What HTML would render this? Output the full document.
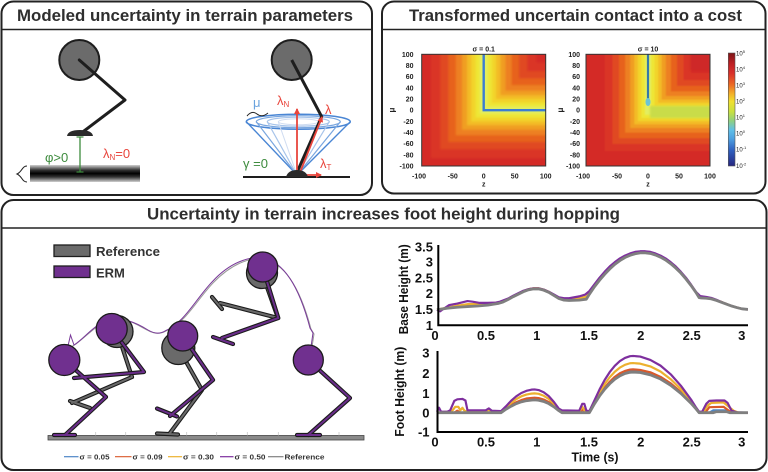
<!DOCTYPE html>
<html><head><meta charset="utf-8"><style>html,body{margin:0;padding:0;background:#fff}svg{display:block}</style></head>
<body>
<svg width="768" height="472" viewBox="0 0 768 472" xmlns="http://www.w3.org/2000/svg" xmlns:xlink="http://www.w3.org/1999/xlink" font-family="'Liberation Sans', Arial, sans-serif">
<defs>
  <linearGradient id="gnd" x1="0" y1="0" x2="0" y2="1">
    <stop offset="0" stop-color="#d0d0d0"/><stop offset="0.3" stop-color="#333"/><stop offset="0.5" stop-color="#000"/><stop offset="0.7" stop-color="#333"/><stop offset="1" stop-color="#d0d0d0"/>
  </linearGradient>
  <linearGradient id="cbar" x1="0" y1="0" x2="0" y2="1">
    <stop offset="0" stop-color="#7d1416"/><stop offset="0.1" stop-color="#c02024"/><stop offset="0.18" stop-color="#d9302a"/><stop offset="0.28" stop-color="#ec6a24"/><stop offset="0.36" stop-color="#f3b02a"/><stop offset="0.43" stop-color="#f0e030"/><stop offset="0.52" stop-color="#c8e040"/><stop offset="0.6" stop-color="#90d080"/><stop offset="0.68" stop-color="#60c0e8"/><stop offset="0.76" stop-color="#4ea0e0"/><stop offset="0.86" stop-color="#3060c0"/><stop offset="1" stop-color="#262680"/>
  </linearGradient>
  <filter id="bl" x="-10%" y="-10%" width="120%" height="120%"><feGaussianBlur stdDeviation="1"/></filter>
  <clipPath id="clipL"><rect x="421.7" y="54.3" width="124" height="111.7"/></clipPath>
  <clipPath id="clipR"><rect x="586" y="54.3" width="124" height="111.7"/></clipPath>
  <marker id="ah" markerWidth="6" markerHeight="6" refX="5" refY="3" orient="auto" markerUnits="userSpaceOnUse"><path d="M0,0 L6,3 L0,6 z" fill="#e8453c"/></marker>
  <g id="bands">
    <rect x="380" y="0" width="220" height="200" fill="#d42a27"/>
    <polygon points="431,0 536.4,0 536.4,62.7 600,62.7 600,157.7 431,157.7" fill="#da3626"/>
    <polygon points="440.3,0 527.1,0 527.1,71.1 600,71.1 600,149.3 440.3,149.3" fill="#e04a22"/>
    <polygon points="448.4,0 519,0 519,78.4 600,78.4 600,142 448.4,142" fill="#e7621f"/>
    <polygon points="455.8,0 511.6,0 511.6,85.1 600,85.1 600,135.3 455.8,135.3" fill="#ed8020"/>
    <polygon points="462,0 505.4,0 505.4,90.7 600,90.7 600,129.7 462,129.7" fill="#f09e24"/>
    <polygon points="467,0 500.4,0 500.4,95.1 600,95.1 600,125.3 467,125.3" fill="#f3bb28"/>
    <polygon points="471.3,0 496.1,0 496.1,99 600,99 600,121.4 471.3,121.4" fill="#f2d42c"/>
    <polygon points="475.6,0 491.8,0 491.8,102.9 600,102.9 600,117.5 475.6,117.5" fill="#eee634"/>
    <polygon points="480,0 487.4,0 487.4,106.8 600,106.8 600,113.6 480,113.6" fill="#e2ee60"/>
  </g>
</defs>

<!-- Panels -->
<rect x="1.5" y="1.5" width="370.5" height="193.5" rx="12" fill="#fff" stroke="#222" stroke-width="2"/>
<line x1="1.5" y1="29.5" x2="372" y2="29.5" stroke="#222" stroke-width="1.5"/>
<rect x="382" y="1.5" width="383.5" height="192" rx="12" fill="#fff" stroke="#222" stroke-width="2"/>
<line x1="382" y1="29.5" x2="765.5" y2="29.5" stroke="#222" stroke-width="1.5"/>
<rect x="1.5" y="200" width="765" height="270" rx="12" fill="#fff" stroke="#222" stroke-width="2"/>
<line x1="1.5" y1="228" x2="766.5" y2="228" stroke="#222" stroke-width="1.5"/>

<!-- Titles -->
<text x="17" y="21" font-size="17" font-weight="bold" fill="#2e2e2e" textLength="336" lengthAdjust="spacingAndGlyphs">Modeled uncertainty in terrain parameters</text>
<text x="409" y="21" font-size="17" font-weight="bold" fill="#2e2e2e" textLength="333" lengthAdjust="spacingAndGlyphs">Transformed uncertain contact into a cost</text>
<text x="147" y="219.5" font-size="17" font-weight="bold" fill="#2e2e2e" textLength="473" lengthAdjust="spacingAndGlyphs">Uncertainty in terrain increases foot height during hopping</text>

<!-- ===== Top-left drawing ===== -->
<rect x="30" y="165" width="110" height="17" fill="url(#gnd)"/>
<path d="M27,166 C22,166 22,172 17,174 C22,176 22,182 27,182" fill="none" stroke="#222" stroke-width="1"/>
<line x1="80" y1="137" x2="80" y2="172" stroke="#3d8b3d" stroke-width="1.3"/>
<line x1="76.5" y1="137" x2="83.5" y2="137" stroke="#3d8b3d" stroke-width="1.2"/>
<line x1="76.5" y1="172" x2="83.5" y2="172" stroke="#3d8b3d" stroke-width="1.2"/>
<circle cx="79.3" cy="60" r="20" fill="#6b6b6b" stroke="#1e1e1e" stroke-width="2"/>
<polyline points="79.3,60 125,100 84,131" fill="none" stroke="#1e1e1e" stroke-width="3" stroke-linejoin="round" stroke-linecap="round"/>
<path d="M67,136 Q68,130 80,130 Q92,130 93,136 Z" fill="#2a2a2a"/>
<text x="45" y="162" font-size="13" fill="#3d8b3d">φ&gt;0</text>
<text x="103" y="158" font-size="13" fill="#e8453c">λ<tspan font-size="8" dy="2">N</tspan><tspan dy="-2">=0</tspan></text>

<line x1="243" y1="177" x2="350" y2="177" stroke="#1e1e1e" stroke-width="2"/>
<g fill="none">
  <path d="M297,175 L246.3,121.7 M297,175 L350.3,121.7" stroke="#4a86d4" stroke-width="1.4"/>
  <ellipse cx="298.3" cy="121.7" rx="52" ry="7.5" stroke="#4a86d4" stroke-width="1.5"/>
  <path d="M297,175 L256.3,121.7 M297,175 L340.3,121.7" stroke="#79a6df" stroke-width="1.2"/>
  <ellipse cx="298.3" cy="121.7" rx="42" ry="6" stroke="#79a6df" stroke-width="1.2"/>
  <path d="M297,175 L267.3,121.7 M297,175 L329.3,121.7" stroke="#a7c4ea" stroke-width="1.2"/>
  <ellipse cx="298.3" cy="121.7" rx="31" ry="4.5" stroke="#a7c4ea" stroke-width="1.2"/>
  <path d="M297,175 L278.3,121.7 M297,175 L318.3,121.7" stroke="#cfdcf1" stroke-width="1"/>
  <ellipse cx="298.3" cy="121.7" rx="20" ry="3" stroke="#cfdcf1" stroke-width="1"/>
</g>
<circle cx="291.7" cy="60" r="20" fill="#6b6b6b" stroke="#1e1e1e" stroke-width="2"/>
<polyline points="291.7,60 321.7,116.7 296.7,173" fill="none" stroke="#1e1e1e" stroke-width="3" stroke-linejoin="round"/>
<g stroke="#e8453c" stroke-width="1.8" fill="none">
  <line x1="297" y1="175" x2="297" y2="109" marker-end="url(#ah)"/>
  <line x1="299" y1="175" x2="322" y2="117" marker-end="url(#ah)"/>
  <line x1="297" y1="175" x2="321" y2="175" marker-end="url(#ah)"/>
</g>
<path d="M286,177 Q288,170 297,170 Q306,170 308,177 Z" fill="#2a2a2a"/>
<path d="M247,116 Q252,110 257,114 Q262,118 268,113" fill="none" stroke="#222" stroke-width="1"/>
<text x="277" y="105" font-size="13" fill="#e8453c">λ<tspan font-size="8" dy="2">N</tspan></text>
<text x="325" y="114" font-size="13" fill="#e8453c">λ</text>
<text x="320" y="168" font-size="13" fill="#e8453c">λ<tspan font-size="8" dy="2">T</tspan></text>
<text x="253" y="107" font-size="13" fill="#6aa3de">μ</text>
<text x="243" y="168" font-size="13" fill="#3d8b3d">γ =0</text>

<!-- ===== Heatmaps ===== -->
<g clip-path="url(#clipL)">
  <use xlink:href="#bands" href="#bands" filter="url(#bl)"/>
  <polyline points="483.7,50 483.7,110.2 550,110.2" fill="none" stroke="#3b7dd2" stroke-width="2.4"/>
</g>
<rect x="421.7" y="54.3" width="124" height="111.7" fill="none" stroke="#333" stroke-width="1"/>
<g clip-path="url(#clipR)">
  <g transform="translate(648,112) scale(0.82) translate(-483.7,-110.2)"><use xlink:href="#bands" href="#bands" filter="url(#bl)"/></g>
  <rect x="690" y="50" width="25" height="20" fill="#c8282a" opacity="0.5" filter="url(#bl)"/>
  <rect x="650" y="106" width="65" height="12" fill="#c9dc48" filter="url(#bl)"/>
  <line x1="648" y1="50" x2="648" y2="100" stroke="#3578a8" stroke-width="2.2"/>
  <ellipse cx="648" cy="102" rx="2.5" ry="4" fill="#6cc4d4"/>
</g>
<rect x="586" y="54.3" width="124" height="111.7" fill="none" stroke="#333" stroke-width="1"/>
<rect x="728.3" y="53" width="6.7" height="113" fill="url(#cbar)" stroke="#555" stroke-width="0.6"/>

<g font-size="7" font-weight="bold" fill="#222">
  <text x="483.7" y="51.5" text-anchor="middle">σ = 0.1</text>
  <text x="648" y="51.5" text-anchor="middle">σ = 10</text>
  <g text-anchor="end">
    <text x="413.5" y="56.8">100</text><text x="413.5" y="68">80</text><text x="413.5" y="79.1">60</text><text x="413.5" y="90.3">40</text><text x="413.5" y="101.5">20</text><text x="413.5" y="112.7">0</text><text x="413.5" y="123.8">-20</text><text x="413.5" y="135">-40</text><text x="413.5" y="146.2">-60</text><text x="413.5" y="157.3">-80</text><text x="413.5" y="168.5">-100</text>
    <text x="580" y="56.8">100</text><text x="580" y="68">80</text><text x="580" y="79.1">60</text><text x="580" y="90.3">40</text><text x="580" y="101.5">20</text><text x="580" y="112.7">0</text><text x="580" y="123.8">-20</text><text x="580" y="135">-40</text><text x="580" y="146.2">-60</text><text x="580" y="157.3">-80</text><text x="580" y="168.5">-100</text>
  </g>
  <g text-anchor="middle">
    <text x="419" y="178.5">-100</text><text x="452.7" y="178.5">-50</text><text x="483.7" y="178.5">0</text><text x="514.7" y="178.5">50</text><text x="545.7" y="178.5">100</text>
    <text x="583" y="178.5">-100</text><text x="617" y="178.5">-50</text><text x="648" y="178.5">0</text><text x="679" y="178.5">50</text><text x="710" y="178.5">100</text>
    <text x="483.7" y="186.5">z</text><text x="648" y="186.5">z</text>
  </g>
  <text transform="translate(394.5,110) rotate(-90)" text-anchor="middle" font-size="8">μ</text>
  <text transform="translate(563,110) rotate(-90)" text-anchor="middle" font-size="8">μ</text>
</g>
<g font-size="6" fill="#222">
  <text x="736" y="55.5">10<tspan font-size="4" dy="-2.5">5</tspan></text>
  <text x="736" y="71.5">10<tspan font-size="4" dy="-2.5">4</tspan></text>
  <text x="736" y="87.5">10<tspan font-size="4" dy="-2.5">3</tspan></text>
  <text x="736" y="103.5">10<tspan font-size="4" dy="-2.5">2</tspan></text>
  <text x="736" y="119.5">10<tspan font-size="4" dy="-2.5">1</tspan></text>
  <text x="736" y="135.5">10<tspan font-size="4" dy="-2.5">0</tspan></text>
  <text x="736" y="151.5">10<tspan font-size="4" dy="-2.5">-1</tspan></text>
  <text x="736" y="168">10<tspan font-size="4" dy="-2.5">-2</tspan></text>
</g>

<!-- ===== Bottom-left robots ===== -->
<rect x="54" y="245" width="36" height="11.5" fill="#6b6b6b" stroke="#1e1e1e" stroke-width="1.3"/>
<text x="96" y="256" font-size="13" font-weight="bold" fill="#333" textLength="64" lengthAdjust="spacingAndGlyphs">Reference</text>
<rect x="54" y="266" width="36" height="11.5" fill="#70308f" stroke="#1e1e1e" stroke-width="1.3"/>
<text x="96" y="277.5" font-size="13" font-weight="bold" fill="#333">ERM</text>

<rect x="48" y="435.5" width="316" height="4.5" fill="#8a8a8a" stroke="#444" stroke-width="0.8"/>
<g stroke="#c8c8c8" stroke-width="0.8">
  <line x1="95.7" y1="432" x2="95.7" y2="435.5"/><line x1="125.7" y1="432" x2="125.7" y2="435.5"/><line x1="186.7" y1="432" x2="186.7" y2="435.5"/><line x1="216.7" y1="432" x2="216.7" y2="435.5"/><line x1="247.3" y1="432" x2="247.3" y2="435.5"/><line x1="278.3" y1="432" x2="278.3" y2="435.5"/><line x1="339" y1="432" x2="339" y2="435.5"/>
</g>

<!-- trajectories -->
<path d="M68,348 C80,345 95,323 112,319.5 C128,317 138,326 150,331.5 C157,334.5 162,333.5 167,330.5 C186,322 196,301 213,283 C231,264 250,257 263,259 C286,263 301,291 311,329 L314,334 L312,347" fill="none" stroke="#9a9a9a" stroke-width="1"/>
<path d="M68,346 L70.5,335 L74,345 C85,338 95,323 110,320 C125,318 135,322 148,330 C155,334 160,334 165,331 C185,322 195,300 212,282 C230,262 250,256 263,258 C285,262 300,290 310,328 L313,333 L311,347" fill="none" stroke="#7a3a9a" stroke-width="1"/>

<!-- grey reference poses -->
<g fill="none" stroke-linejoin="round" stroke-linecap="round">
  <g stroke="#1b1b1b" stroke-width="4.2">
    <polyline points="117,331.5 132,377 72,403"/><line x1="70" y1="401" x2="90" y2="408"/>
    <polyline points="178.3,348 202,390 170,433"/><line x1="157" y1="433.5" x2="178" y2="434.5"/>
    <polyline points="262,273 278,318 220,303"/><line x1="212" y1="297" x2="222" y2="309"/>
  </g>
  <g stroke="#6a6a6a" stroke-width="2">
    <polyline points="117,331.5 132,377 72,403"/><line x1="70" y1="401" x2="90" y2="408"/>
    <polyline points="178.3,348 202,390 170,433"/><line x1="157" y1="433.5" x2="178" y2="434.5"/>
    <polyline points="262,273 278,318 220,303"/><line x1="212" y1="297" x2="222" y2="309"/>
  </g>
</g>
<g fill="#6a6a6a" stroke="#1b1b1b" stroke-width="1.3">
  <circle cx="117" cy="331.5" r="16"/>
  <circle cx="178.3" cy="348" r="16.5"/>
  <circle cx="262" cy="273" r="15.5"/>
</g>

<!-- purple ERM poses -->
<g fill="none" stroke-linejoin="round" stroke-linecap="round">
  <g stroke="#1b1b1b" stroke-width="4.2">
    <polyline points="64.3,360 106,397 65,435"/><line x1="54" y1="435" x2="75" y2="435"/>
    <polyline points="111.7,329 144,372 74,378"/>
    <polyline points="182.7,336 213,380 170,416"/><line x1="157" y1="408.5" x2="177" y2="416.5"/>
    <polyline points="265,275 278.3,318 222,338"/><line x1="213" y1="337" x2="233" y2="344"/>
    <polyline points="308.3,360 350,398 308.3,435"/><line x1="297" y1="435" x2="320" y2="435"/>
  </g>
  <g stroke="#6a2d8a" stroke-width="2">
    <polyline points="64.3,360 106,397 65,435"/><line x1="54" y1="435" x2="75" y2="435"/>
    <polyline points="111.7,329 144,372 74,378"/>
    <polyline points="182.7,336 213,380 170,416"/><line x1="157" y1="408.5" x2="177" y2="416.5"/>
    <polyline points="265,275 278.3,318 222,338"/><line x1="213" y1="337" x2="233" y2="344"/>
    <polyline points="308.3,360 350,398 308.3,435"/><line x1="297" y1="435" x2="320" y2="435"/>
  </g>
</g>
<g fill="#70308f" stroke="#1b1b1b" stroke-width="1.3">
  <circle cx="64.3" cy="360" r="15.5"/>
  <circle cx="111.7" cy="329" r="15.5"/>
  <circle cx="182.7" cy="336" r="15"/>
  <circle cx="262.7" cy="267" r="15"/>
  <circle cx="308.3" cy="360" r="15"/>
</g>

<!-- bottom legend -->
<g font-size="7.5" font-weight="bold" fill="#333">
  <line x1="64" y1="456.7" x2="78.5" y2="456.7" stroke="#4d86c6" stroke-width="1.2"/>
  <text x="79.5" y="459.3" textLength="30" lengthAdjust="spacingAndGlyphs">σ = 0.05</text>
  <line x1="115" y1="456.7" x2="131.5" y2="456.7" stroke="#d95a2b" stroke-width="1.2"/>
  <text x="132.5" y="459.3" textLength="30" lengthAdjust="spacingAndGlyphs">σ = 0.09</text>
  <line x1="168" y1="456.7" x2="182" y2="456.7" stroke="#ecb12f" stroke-width="1.2"/>
  <text x="183" y="459.3" textLength="31" lengthAdjust="spacingAndGlyphs">σ = 0.30</text>
  <line x1="220" y1="456.7" x2="233.5" y2="456.7" stroke="#7e2f9e" stroke-width="1.2"/>
  <text x="234.5" y="459.3" textLength="31" lengthAdjust="spacingAndGlyphs">σ = 0.50</text>
  <line x1="268" y1="456.7" x2="283.5" y2="456.7" stroke="#808080" stroke-width="1.2"/>
  <text x="284.5" y="459.3" textLength="40" lengthAdjust="spacingAndGlyphs">Reference</text>
</g>

<!-- ===== Base height chart ===== -->
<g transform="translate(437 356.4) scale(101.6 -31.1)" fill="none" stroke-linejoin="round">
  <polyline vector-effect="non-scaling-stroke" stroke="#d95a2b" stroke-width="2.2" points="0,1.5 0.2,1.6 0.4,1.64 0.6,1.71 0.7,1.85 0.8,2.02 0.9,2.16 0.95,2.19 1.0,2.19 1.1,2.07 1.2,1.87 1.25,1.82 1.4,1.83 1.47,1.86 1.5,2.01 1.55,2.25 1.6,2.46 1.65,2.65 1.7,2.82 1.75,2.97 1.8,3.09 1.85,3.19 1.9,3.26 1.95,3.31 2.0,3.34 2.05,3.34 2.1,3.32 2.15,3.27 2.2,3.2 2.25,3.11 2.3,2.99 2.35,2.85 2.4,2.69 2.45,2.5 2.5,2.29 2.55,2.06 2.58,1.9 2.65,1.88 2.7,1.86 2.8,1.75 2.9,1.62 3.0,1.53 3.06,1.51"/>
  <polyline vector-effect="non-scaling-stroke" stroke="#ecb12f" stroke-width="2.2" points="0,1.5 0.1,1.57 0.2,1.63 0.3,1.68 0.4,1.68 0.5,1.7 0.6,1.73 0.65,1.77 0.7,1.85 0.75,1.94 0.8,2.02 0.85,2.1 0.9,2.16 0.95,2.19 1.0,2.19 1.05,2.15 1.1,2.08 1.15,1.98 1.2,1.88 1.25,1.84 1.3,1.84 1.4,1.87 1.47,1.92 1.5,2.05 1.55,2.27 1.6,2.48 1.65,2.67 1.7,2.84 1.75,2.99 1.8,3.11 1.85,3.2 1.9,3.27 1.95,3.32 2.0,3.35 2.05,3.35 2.1,3.33 2.15,3.28 2.2,3.21 2.25,3.12 2.3,3.0 2.35,2.86 2.4,2.7 2.45,2.51 2.5,2.3 2.55,2.06 2.58,1.9 2.65,1.89 2.7,1.87 2.8,1.75 2.9,1.62 3.0,1.53 3.06,1.51"/>
  <polyline vector-effect="non-scaling-stroke" stroke="#7e2f9e" stroke-width="2.2" points="0,1.5 0.03,1.45 0.06,1.52 0.12,1.65 0.2,1.7 0.3,1.78 0.35,1.76 0.42,1.72 0.5,1.72 0.58,1.73 0.62,1.76 0.7,1.86 0.75,1.95 0.8,2.03 0.85,2.11 0.9,2.16 0.95,2.19 1.0,2.19 1.05,2.15 1.1,2.08 1.15,1.99 1.2,1.9 1.25,1.87 1.3,1.87 1.4,1.93 1.46,1.99 1.5,2.1 1.55,2.32 1.6,2.53 1.65,2.72 1.7,2.89 1.75,3.03 1.8,3.15 1.85,3.24 1.9,3.31 1.95,3.36 2.0,3.38 2.05,3.38 2.1,3.36 2.15,3.31 2.2,3.24 2.25,3.15 2.3,3.03 2.35,2.89 2.4,2.72 2.45,2.53 2.5,2.31 2.55,2.07 2.59,1.94 2.65,1.91 2.7,1.88 2.75,1.82 2.8,1.75 2.9,1.62 3.0,1.53 3.06,1.51"/>
  <polyline vector-effect="non-scaling-stroke" stroke="#7f7f7f" stroke-width="2.8" points="0,1.5 0.1,1.55 0.2,1.58 0.3,1.6 0.4,1.62 0.5,1.65 0.6,1.7 0.65,1.75 0.7,1.83 0.75,1.92 0.8,2.0 0.85,2.08 0.9,2.14 0.95,2.17 1.0,2.17 1.05,2.13 1.1,2.06 1.15,1.96 1.2,1.86 1.25,1.81 1.3,1.8 1.4,1.81 1.47,1.84 1.5,2.0 1.55,2.24 1.6,2.45 1.65,2.64 1.7,2.81 1.75,2.96 1.8,3.08 1.85,3.18 1.9,3.25 1.95,3.3 2.0,3.33 2.05,3.33 2.1,3.31 2.15,3.26 2.2,3.19 2.25,3.1 2.3,2.98 2.35,2.84 2.4,2.68 2.45,2.49 2.5,2.28 2.55,2.05 2.58,1.89 2.6,1.88 2.65,1.87 2.7,1.85 2.75,1.8 2.8,1.74 2.85,1.68 2.9,1.62 2.95,1.57 3.0,1.53 3.06,1.51"/>
</g>
<polyline points="438.3,245 438.3,325.3 748,325.3" fill="none" stroke="#000" stroke-width="2"/>

<!-- ===== Foot height chart ===== -->
<g transform="translate(437 412.7) scale(101.6 -19.7)" fill="none" stroke-linejoin="round">
  <polyline vector-effect="non-scaling-stroke" stroke="#4d86c6" stroke-width="2.2" points="0,0 0.63,0 0.68,0.19 0.73,0.35 0.78,0.48 0.83,0.58 0.88,0.64 0.93,0.68 0.96,0.68 1.0,0.66 1.05,0.6 1.1,0.48 1.15,0.32 1.2,0.1 1.23,0 1.5,0 1.55,0.46 1.6,0.87 1.65,1.22 1.7,1.51 1.75,1.75 1.8,1.93 1.85,2.05 1.9,2.11 1.93,2.12 2.0,2.1 2.1,1.98 2.2,1.76 2.3,1.43 2.4,1.01 2.5,0.49 2.55,0.19 2.58,0 2.68,0 2.72,0.12 2.84,0.12 2.88,0 3.06,0"/>
  <polyline vector-effect="non-scaling-stroke" stroke="#d95a2b" stroke-width="2.2" points="0,0 0.17,0 0.2,0.1 0.23,0 0.63,0 0.68,0.21 0.73,0.39 0.78,0.53 0.83,0.64 0.88,0.72 0.93,0.75 0.96,0.76 1.0,0.74 1.05,0.67 1.1,0.54 1.15,0.35 1.2,0.11 1.23,0.02 1.4,0.02 1.43,0.15 1.46,0.02 1.5,0 1.55,0.48 1.6,0.9 1.65,1.27 1.7,1.57 1.75,1.82 1.8,2.0 1.85,2.12 1.9,2.19 1.93,2.2 2.0,2.17 2.1,2.05 2.2,1.82 2.3,1.49 2.4,1.05 2.5,0.51 2.55,0.2 2.58,0 2.64,0 2.68,0.28 2.82,0.3 2.86,0.15 2.9,0 3.06,0"/>
  <polyline vector-effect="non-scaling-stroke" stroke="#ecb12f" stroke-width="2.2" points="0,0 0.1,0.05 0.15,0.1 0.18,0.3 0.21,0.3 0.23,0.12 0.25,0.25 0.27,0.1 0.3,0.05 0.48,0.05 0.51,0.15 0.54,0.05 0.63,0.03 0.68,0.27 0.73,0.5 0.78,0.69 0.83,0.83 0.88,0.92 0.93,0.97 0.96,0.98 1.0,0.96 1.05,0.86 1.1,0.7 1.15,0.46 1.2,0.15 1.23,0.05 1.4,0.05 1.43,0.3 1.46,0.05 1.5,0.02 1.55,0.55 1.6,1.04 1.65,1.45 1.7,1.8 1.75,2.08 1.8,2.29 1.85,2.43 1.9,2.51 1.93,2.52 2.0,2.49 2.1,2.35 2.2,2.09 2.3,1.7 2.4,1.2 2.5,0.58 2.55,0.23 2.58,0.02 2.62,0.02 2.66,0.35 2.7,0.5 2.82,0.52 2.86,0.35 2.92,0.1 2.97,0 3.06,0"/>
  <polyline vector-effect="non-scaling-stroke" stroke="#7e2f9e" stroke-width="2.2" points="0,0.05 0.02,0.25 0.04,0.05 0.1,0.05 0.13,0.12 0.17,0.6 0.2,0.68 0.25,0.7 0.28,0.62 0.3,0.12 0.48,0.12 0.51,0.22 0.54,0.1 0.63,0.08 0.68,0.33 0.73,0.61 0.78,0.83 0.83,1.0 0.88,1.11 0.93,1.17 0.96,1.18 1.0,1.15 1.05,1.04 1.1,0.84 1.15,0.55 1.2,0.2 1.23,0.12 1.4,0.1 1.43,0.45 1.45,0.45 1.47,0.1 1.5,0.08 1.55,0.63 1.6,1.18 1.65,1.66 1.7,2.06 1.75,2.38 1.8,2.62 1.85,2.78 1.9,2.87 1.93,2.88 2.0,2.85 2.1,2.68 2.2,2.39 2.3,1.95 2.4,1.37 2.5,0.67 2.55,0.26 2.58,0.05 2.61,0.05 2.65,0.45 2.68,0.6 2.75,0.62 2.83,0.62 2.86,0.5 2.9,0.1 2.95,0.02 3.06,0"/>
  <polyline vector-effect="non-scaling-stroke" stroke="#7f7f7f" stroke-width="2.8" points="0,0 0.63,0 0.68,0.18 0.73,0.33 0.78,0.46 0.83,0.55 0.88,0.61 0.93,0.64 0.96,0.65 1.0,0.63 1.05,0.57 1.1,0.46 1.15,0.3 1.2,0.1 1.23,0 1.5,0 1.55,0.45 1.6,0.85 1.65,1.19 1.7,1.47 1.75,1.7 1.8,1.87 1.85,1.99 1.9,2.05 1.93,2.06 2.0,2.04 2.1,1.92 2.2,1.71 2.3,1.39 2.4,0.98 2.5,0.48 2.55,0.19 2.58,0 2.72,0 2.75,0.05 2.85,0.05 2.88,0 3.06,0"/>
</g>
<polyline points="437.5,351 437.5,432 748,432" fill="none" stroke="#000" stroke-width="2"/>

<!-- chart labels -->
<g font-size="13" font-weight="bold" fill="#111">
  <g text-anchor="end">
    <text x="433" y="251.7">3.5</text><text x="433" y="266.7">3</text><text x="433" y="282.4">2.5</text><text x="433" y="298">2</text><text x="433" y="314">1.5</text><text x="433" y="330">1</text>
    <text x="429.5" y="357.4">3</text><text x="429.5" y="378">2</text><text x="429.5" y="398">1</text><text x="429.5" y="417.4">0</text><text x="429.5" y="436.4">-1</text>
  </g>
  <g text-anchor="middle">
    <text x="435" y="340">0</text><text x="486" y="340">0.5</text><text x="536.7" y="340">1</text><text x="589" y="340">1.5</text><text x="640.7" y="340">2</text><text x="691.7" y="340">2.5</text><text x="741.7" y="340">3</text>
    <text x="435" y="446.4">0</text><text x="486" y="446.4">0.5</text><text x="536.7" y="446.4">1</text><text x="589" y="446.4">1.5</text><text x="640.7" y="446.4">2</text><text x="691.7" y="446.4">2.5</text><text x="741.7" y="446.4">3</text>
  </g>
  <text x="571.5" y="461.5" textLength="47" lengthAdjust="spacingAndGlyphs">Time (s)</text>
  <text transform="translate(408,334.3) rotate(-90)" font-size="12.5" textLength="90" lengthAdjust="spacingAndGlyphs">Base Height (m)</text>
  <text transform="translate(404,436.7) rotate(-90)" font-size="12.5" textLength="90" lengthAdjust="spacingAndGlyphs">Foot Height (m)</text>
</g>
</svg>
</body></html>
